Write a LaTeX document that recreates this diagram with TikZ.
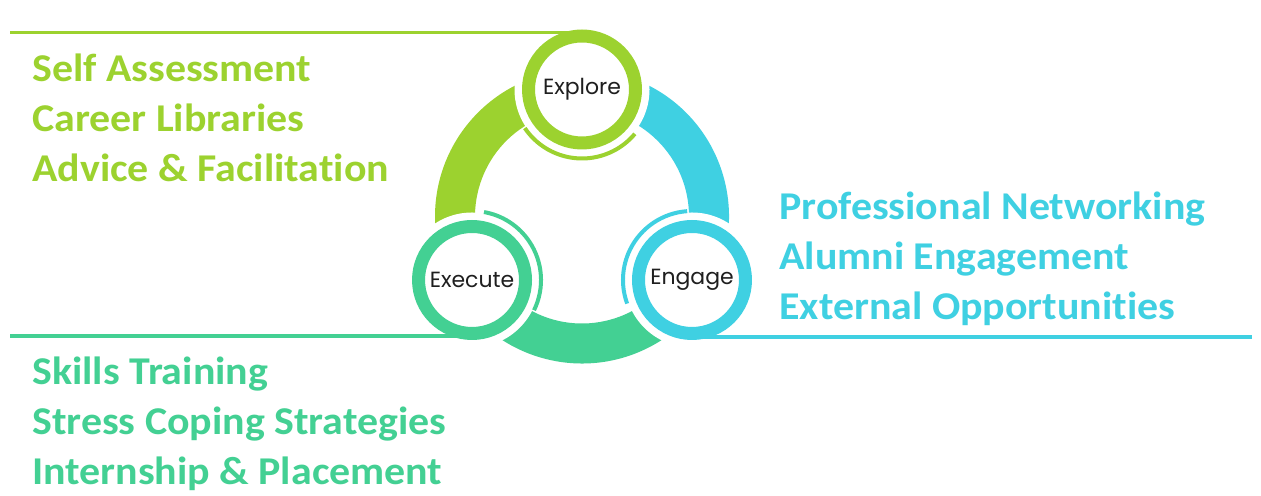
\documentclass[tikz,border=0pt]{standalone}
\usepackage{fontspec}
\usepackage{xcolor}
\usetikzlibrary{calc}
\newfontfamily\listfont{Carlito}[FakeStretch=1.065, Ligatures=NoCommon]
\newfontfamily\stagefont{Poppins}
\definecolor{exploregreen}{HTML}{9CD22F}
\definecolor{executeteal}{HTML}{43D093}
\definecolor{engagecyan}{HTML}{3FD0E2}
\tikzset{
  stage/.style = {
    circle,
    draw,
    fill=white,
    line width=0.26cm,
    minimum size=2.14cm,
    inner sep=0pt,
    font=\stagefont\fontsize{12.5}{14}\selectfont,
    text=black!88
  },
  gapdisk/.style = {
    fill=white
  },
  tailarc/.style = {
    line width=0.08cm
  },
  rule/.style = {
    line width=0.07cm
  },
  item/.style = {
    anchor=base west,
    inner sep=0pt,
    font=\listfont\bfseries\fontsize{22.4}{27}\selectfont
  }
}

\begin{document}
\begin{tikzpicture}[x=0.02cm, y=0.02cm]
    \useasboundingbox[fill=white] (0,0) rectangle (1261,496);
    \coordinate (c) at (582,279.5);
    \coordinate (pexplore) at ($(c)+(90:127)$);
    \coordinate (pexecute) at ($(c)+(210:127)$);
    \coordinate (pengage) at ($(c)+(330:127)$);
    % block arcs
    \fill[exploregreen] ($(c)+(90:147)$) arc[start angle=90, end angle=210, radius=147]
      -- ($(c)+(210:107)$) arc[start angle=210, end angle=90, radius=107] -- cycle;
    \fill[executeteal] ($(c)+(210:147)$) arc[start angle=210, end angle=330, radius=147]
      -- ($(c)+(330:107)$) arc[start angle=330, end angle=210, radius=107] -- cycle;
    \fill[engagecyan] ($(c)+(330:147)$) arc[start angle=330, end angle=450, radius=147]
      -- ($(c)+(450:107)$) arc[start angle=450, end angle=330, radius=107] -- cycle;
    \fill[gapdisk] (pexplore) circle[radius=67.5];
    \fill[gapdisk] (pexecute) circle[radius=67.5];
    \fill[gapdisk] (pengage) circle[radius=67.5];
    % rules
    \coordinate (topend) at (10,463.7);
    \coordinate (lowend) at (10,160);
    \coordinate (rightend) at (1252,159);
    \draw[rule, exploregreen] (topend) -- (topend -| pexplore);
    \draw[rule, executeteal] (lowend) -- (lowend -| pexecute);
    \draw[rule, engagecyan] (rightend -| pengage) -- (rightend);
    % tails
    \draw[tailarc, exploregreen] ($(pexplore)+(214:69)$) arc[start angle=214, end angle=320, radius=69];
    \draw[tailarc, executeteal] ($(pexecute)+(-26:69)$) arc[start angle=-26, end angle=80, radius=69];
    \draw[tailarc, engagecyan] ($(pengage)+(94:69)$) arc[start angle=94, end angle=200, radius=69];
    \node[stage, draw=exploregreen] (explore) at (pexplore) {Explore};
    \node[stage, draw=executeteal] (execute) at (pexecute) {Execute};
    \node[stage, draw=engagecyan] (engage) at (pengage) {Engage};
    % lists
    \node[item, text=exploregreen] (self) at (32,414.3) {Self Assessment};
    \node[item, text=exploregreen] (career) at ([yshift=-1cm]self.base west) {Career Libraries};
    \node[item, text=exploregreen] (advice) at ([yshift=-1cm]career.base west) {Advice \& Facilitation};
    \node[item, text=engagecyan] (network) at (779,276) {Professional Networking};
    \node[item, text=engagecyan] (alumni) at ([yshift=-1cm]network.base west) {Alumni Engagement};
    \node[item, text=engagecyan] (external) at ([yshift=-1cm]alumni.base west) {External Opportunities};
    \node[item, text=executeteal] (skills) at (32,111) {Skills Training};
    \node[item, text=executeteal] (stress) at ([yshift=-1cm]skills.base west) {Stress Coping Strategies};
    \node[item, text=executeteal] (intern) at ([yshift=-1cm]stress.base west) {Internship \& Placement};
  \end{tikzpicture}
\end{document}
